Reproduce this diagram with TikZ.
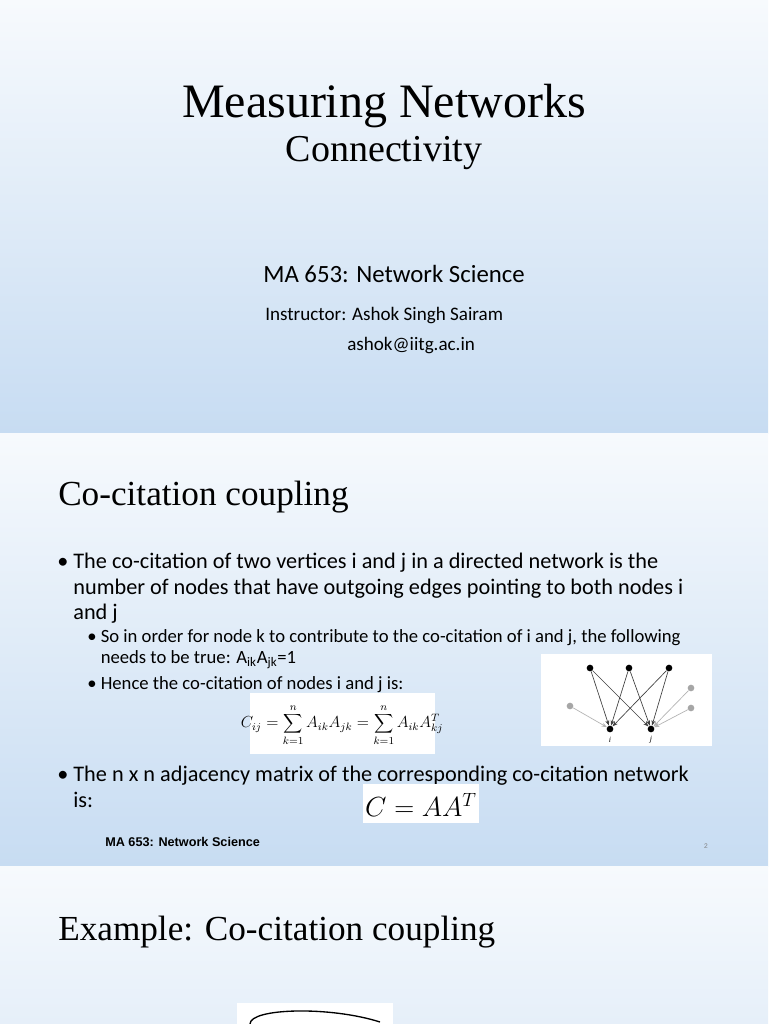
\documentclass[tikz,border=0pt]{standalone}
\usepackage{fontspec}
\setmainfont{Carlito}
\newfontfamily\tms{Liberation Serif}
\newfontfamily\ars{Liberation Sans}
\usetikzlibrary{arrows.meta}
\definecolor{slidetop}{HTML}{F7FAFD}
\definecolor{slidebot}{HTML}{C7DCF2}
\tikzset{
  slide/.style={top color=slidetop,bottom color=slidebot,draw=none},
  txt/.style={inner sep=0pt,anchor=west},
  bk/.style={circle,fill=black,inner sep=0pt,minimum size=5pt},
  gy/.style={circle,fill=gray!70,inner sep=0pt,minimum size=5pt},
  ed/.style={-{Stealth[length=4pt,width=3pt]},black!75,line width=0.5pt},
  eg/.style={-{Stealth[length=4pt,width=3pt]},gray!60,line width=0.5pt},
  wbox/.style={fill=white,draw=none},
  bul/.style={inner sep=0pt,anchor=north west,align=left,font=\fontsize{16.7}{19}\selectfont},
  sbul/.style={inner sep=0pt,anchor=north west,align=left,font=\fontsize{14}{16}\selectfont}
}
\begin{document}
\begin{tikzpicture}[x=0.75pt,y=-0.75pt]
\useasboundingbox (0,0) rectangle (768,1024);
\fill[slide] (0,0) rectangle (768,433);
\fill[slide] (0,433) rectangle (768,866);
\fill[slide] (0,866) rectangle (768,1300);
% slide 1
\node (t1) at (384,106) {\tms\fontsize{36}{40}\selectfont Measuring Networks};
\node (t2) at (384,153) {\tms\fontsize{28.5}{30}\selectfont Connectivity};
\node (c1) at (394,274) {\fontsize{18.6}{20}\selectfont MA 653: Network Science};
\node[txt] (c2) at (265,316) {\fontsize{14.3}{16}\selectfont Instructor: Ashok Singh Sairam};
\node[txt] (c3) at (347,346) {\fontsize{14.3}{16}\selectfont ashok@iitg.ac.in};
% slide 2
\node[txt] (s2t) at (58,497) {\tms\fontsize{26.4}{28}\selectfont Co-citation coupling};
\node[bul] (b1) at (57,553)
 {\textbullet\ The co-citation of two vertices i and j in a directed network is the\\
 \hphantom{\textbullet\ }number of nodes that have outgoing edges pointing to both nodes i\\
 \hphantom{\textbullet\ }and j};
\node[sbul] (b2) at (87,629)
 {\textbullet\ So in order for node k to contribute to the co-citation of i and j, the following\\
 \hphantom{\textbullet\ }needs to be true: A\textsubscript{ik}A\textsubscript{jk}=1};
\node[sbul] (b3) at (87,676)
 {\textbullet\ Hence the co-citation of nodes i and j is:};
\node[wbox,minimum width=138.75pt,minimum height=45.75pt,anchor=north west] (fb) at (250,693) {};
\node (f1) at (342,725) {\fontsize{11.5}{13}\selectfont $\displaystyle C_{ij}=\sum_{k=1}^{n}A_{ik}A_{jk}=\sum_{k=1}^{n}A_{ik}A^{T}_{kj}$};
\node[bul] (b4) at (57,766)
 {\textbullet\ The n x n adjacency matrix of the corresponding co-citation network\\
 \hphantom{\textbullet\ }is:};
\node[wbox,minimum width=87pt,minimum height=29pt,anchor=north west] (f2b) at (363,784) {};
\node (f2) at (421,805) {\tms\fontsize{20}{22}\selectfont $C=AA^{T}$};
\node[txt] (foot) at (105,842) {\ars\bfseries\fontsize{9.5}{11}\selectfont MA 653: Network Science};
\node (pg) at (706,846) {\ars\fontsize{5}{6}\selectfont\color{gray}2};
% graph figure
\node[wbox,minimum width=128pt,minimum height=69pt,anchor=north west] (gb) at (541,654) {};
\node[bk] (k1) at (590,668) {};
\node[bk] (k2) at (629,668) {};
\node[bk] (k3) at (669,668) {};
\node[bk] (ni) at (610,729) {};
\node[bk] (nj) at (651,729) {};
\node[gy] (g1) at (570,706) {};
\node[gy] (g2) at (691,688) {};
\node[gy] (g3) at (691,708) {};
\foreach \s in {k1,k2,k3}{\draw[ed] (\s) -- (ni); \draw[ed] (\s) -- (nj);}
\draw[eg] (g1) -- (ni);
\draw[eg] (g2) -- (nj);
\draw[eg] (g3) -- (nj);
\node[font=\tms\itshape\fontsize{6}{7}\selectfont] (li) at (610,740) {i};
\node[font=\tms\itshape\fontsize{6}{7}\selectfont] (lj) at (651,740) {j};
% slide 3
\node[txt] (s3t) at (58,932) {\tms\fontsize{26.4}{28}\selectfont Example: Co-citation coupling};
\node[wbox,minimum width=117pt,minimum height=40pt,anchor=north west] (ib) at (237,1003) {};
\coordinate (ca) at (250,1024);
\coordinate (cb) at (380,1022);
\draw[line width=1pt] (ca) .. controls (250,1008) and (330,1006) .. (cb);
\end{tikzpicture}
\end{document}
